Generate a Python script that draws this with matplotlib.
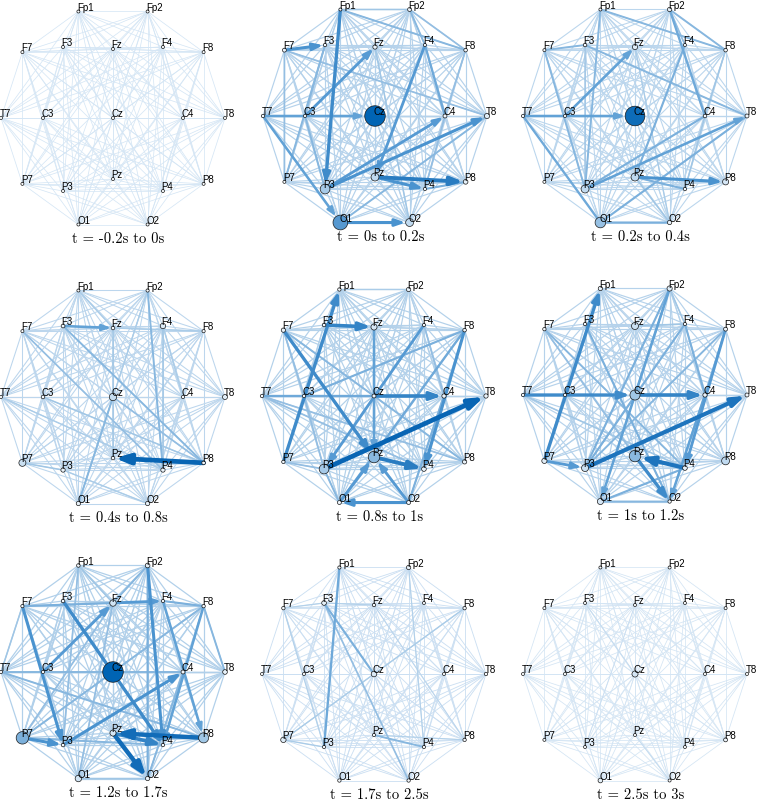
import matplotlib
matplotlib.use("Agg")
import matplotlib.pyplot as plt
from matplotlib.colors import LinearSegmentedColormap
from matplotlib.collections import LineCollection
from matplotlib.patches import FancyArrowPatch

# EEG channels and their 2D layout
channels = ["Fp1", "Fp2", "F7", "F3", "Fz", "F4", "F8", "T7", "C3", "Cz",
            "C4", "T8", "P7", "P3", "Pz", "P4", "P8", "O1", "O2"]
chan_x = [-0.309, 0.309, -0.809, -0.446, 0.0, 0.446, 0.809, -1.0, -0.625, 0.0,
          0.625, 1.0, -0.809, -0.446, 0.0, 0.446, 0.809, -0.309, 0.309]
chan_y = [0.951, 0.951, 0.588, 0.634, 0.616, 0.634, 0.588, 0.0, 0.0, 0.0,
          0.0, 0.0, -0.588, -0.652, -0.545, -0.652, -0.588, -0.951, -0.951]

titles = ["t = -0.2s to 0s", "t = 0s to 0.2s", "t = 0.2s to 0.4s",
          "t = 0.4s to 0.8s", "t = 0.8s to 1s", "t = 1s to 1.2s",
          "t = 1.2s to 1.7s", "t = 1.7s to 2.5s", "t = 2.5s to 3s"]

# node strength per window (same order as channels)
nodes_1 = [0.03] * 19
nodes_2 = [0.03, 0.08, 0.08, 0.05, 0.10, 0.03, 0.06, 0.05, 0.03, 1.00,
           0.08, 0.15, 0.03, 0.40, 0.30, 0.04, 0.12, 0.68, 0.30]
nodes_3 = [0.03, 0.10, 0.03, 0.06, 0.15, 0.03, 0.06, 0.04, 0.03, 0.95,
           0.06, 0.08, 0.03, 0.30, 0.30, 0.05, 0.20, 0.45, 0.10]
nodes_4 = [0.03, 0.04, 0.03, 0.07, 0.06, 0.16, 0.04, 0.03, 0.06, 0.27,
           0.04, 0.14, 0.25, 0.10, 0.06, 0.10, 0.06, 0.10, 0.10]
nodes_5 = [0.05, 0.10, 0.10, 0.06, 0.20, 0.04, 0.06, 0.05, 0.04, 0.08,
           0.10, 0.10, 0.05, 0.40, 0.50, 0.12, 0.10, 0.08, 0.08]
nodes_6 = [0.10, 0.15, 0.05, 0.05, 0.25, 0.04, 0.08, 0.04, 0.04, 0.42,
           0.10, 0.08, 0.15, 0.25, 0.50, 0.12, 0.30, 0.20, 0.05]
nodes_7 = [0.06, 0.12, 0.04, 0.06, 0.22, 0.04, 0.05, 0.04, 0.04, 1.00,
           0.08, 0.12, 0.55, 0.06, 0.20, 0.05, 0.42, 0.22, 0.10]
nodes_8 = [0.04, 0.10, 0.05, 0.12, 0.05, 0.03, 0.05, 0.03, 0.03, 0.17,
           0.03, 0.05, 0.16, 0.04, 0.04, 0.04, 0.05, 0.05, 0.05]
nodes_9 = [0.03, 0.03, 0.03, 0.03, 0.03, 0.03, 0.03, 0.03, 0.03, 0.20,
           0.03, 0.03, 0.03, 0.03, 0.03, 0.03, 0.08, 0.12, 0.03]

# background connectivity level of each window
base_levels = [0.06, 0.24, 0.21, 0.20, 0.25, 0.24, 0.26, 0.12, 0.07]

# strongest directed connections (source, target, weight)
edges_1 = []
edges_2 = [("Fp1", "P3", 0.75), ("F7", "F3", 0.70), ("F3", "P7", 0.45), ("F3", "C3", 0.40),
           ("T7", "Cz", 0.60), ("C3", "Fz", 0.65), ("T7", "O1", 0.60), ("F4", "Pz", 0.65),
           ("F4", "C4", 0.55), ("Fp2", "F4", 0.45), ("Fp1", "F8", 0.45), ("Fp1", "Fp2", 0.35),
           ("P3", "T8", 0.70), ("P3", "C4", 0.65), ("Pz", "P8", 0.85), ("Pz", "P4", 0.70),
           ("P4", "P8", 0.50), ("O1", "O2", 0.70), ("F7", "T8", 0.40), ("C3", "P3", 0.45),
           ("F7", "P7", 0.40), ("O1", "T8", 0.45), ("Fp2", "F8", 0.40), ("Fz", "O2", 0.35),
           ("C4", "P4", 0.40), ("F8", "C4", 0.40)]
edges_3 = [("T7", "Cz", 0.60), ("C3", "Fz", 0.60), ("F7", "F3", 0.45), ("F7", "P3", 0.45),
           ("T7", "O1", 0.55), ("F4", "Pz", 0.50), ("Fp2", "C4", 0.55), ("Fp2", "F4", 0.40),
           ("F3", "T8", 0.45), ("P3", "T8", 0.60), ("P3", "C4", 0.50), ("Pz", "P8", 0.70),
           ("Pz", "P4", 0.50), ("O1", "O2", 0.50), ("Fp1", "F8", 0.45), ("Fp2", "F8", 0.45),
           ("Fp1", "P3", 0.45), ("O1", "T8", 0.50), ("F3", "P3", 0.35), ("C4", "P4", 0.35),
           ("F8", "C4", 0.35), ("Pz", "O2", 0.35), ("Fz", "O2", 0.30)]
edges_4 = [("P8", "Pz", 1.00), ("F3", "Fz", 0.60), ("Cz", "O1", 0.45), ("F3", "P8", 0.45),
           ("Fp2", "P4", 0.45), ("F7", "P4", 0.40), ("Cz", "P8", 0.40), ("F4", "P4", 0.35),
           ("P7", "P3", 0.35), ("Fz", "Pz", 0.35), ("Fp1", "Fz", 0.30), ("Fz", "F8", 0.30),
           ("C3", "P8", 0.35), ("T7", "P4", 0.30), ("Fp2", "O1", 0.30), ("F4", "C4", 0.30),
           ("P3", "O2", 0.30)]
edges_5 = [("P3", "T8", 1.00), ("Cz", "C4", 0.80), ("F3", "Fz", 0.80), ("Fz", "Pz", 0.60),
           ("Pz", "P4", 0.85), ("P7", "Fp1", 0.75), ("F7", "Pz", 0.75), ("F8", "P4", 0.70),
           ("F4", "P3", 0.65), ("F8", "C3", 0.50), ("T7", "Cz", 0.55), ("O2", "O1", 0.70),
           ("O1", "Pz", 0.65), ("O2", "Pz", 0.65), ("O1", "F8", 0.55), ("F7", "P8", 0.45),
           ("T7", "P4", 0.40), ("C4", "O2", 0.50), ("P7", "P3", 0.40), ("F4", "C4", 0.40),
           ("T7", "P8", 0.40), ("C3", "P3", 0.40), ("P3", "O1", 0.45), ("C4", "P4", 0.50),
           ("Fp1", "Fp2", 0.30), ("F7", "C3", 0.40)]
edges_6 = [("P3", "T8", 0.90), ("Cz", "C4", 0.80), ("T7", "Cz", 0.75), ("P4", "Pz", 0.90),
           ("Pz", "O2", 0.75), ("P7", "Fp1", 0.75), ("Fp2", "O1", 0.60), ("Fp2", "P3", 0.50),
           ("F4", "P3", 0.50), ("F8", "P4", 0.65), ("F8", "P3", 0.45), ("C4", "O2", 0.60),
           ("F4", "C4", 0.50), ("O1", "P4", 0.50), ("O1", "O2", 0.45), ("P7", "P3", 0.65),
           ("F3", "O2", 0.50), ("F7", "P4", 0.45), ("Fp2", "Cz", 0.45), ("F8", "C4", 0.45),
           ("C3", "P7", 0.40), ("F7", "Pz", 0.40), ("Fp2", "F4", 0.35), ("Fz", "F4", 0.35),
           ("T7", "P4", 0.35)]
edges_7 = [("P8", "Pz", 0.95), ("Pz", "P4", 0.80), ("Pz", "O2", 0.95), ("F3", "P4", 0.75),
           ("P7", "P3", 0.70), ("P7", "P4", 0.45), ("Fz", "F4", 0.65), ("F7", "Fz", 0.50),
           ("F4", "F8", 0.50), ("F7", "P3", 0.70), ("C3", "Fz", 0.65), ("Fp2", "P4", 0.70),
           ("F8", "P4", 0.60), ("F8", "T8", 0.45), ("F4", "P8", 0.60), ("P3", "C4", 0.70),
           ("T7", "P8", 0.45), ("T7", "C4", 0.45), ("Fp2", "Fz", 0.45), ("Fp1", "Fz", 0.35),
           ("C4", "O2", 0.45), ("Fp2", "O2", 0.50), ("Fp1", "P3", 0.40), ("F7", "T7", 0.35),
           ("Fz", "O1", 0.40), ("Fz", "P7", 0.40), ("O1", "O2", 0.35), ("F8", "P7", 0.45)]
edges_8 = [("Fp1", "P3", 0.55), ("F3", "Cz", 0.50), ("F3", "O2", 0.40), ("Pz", "P4", 0.45),
           ("F8", "P7", 0.30), ("P7", "P3", 0.30), ("F7", "F3", 0.25), ("F3", "Fz", 0.25),
           ("Fp2", "P4", 0.25), ("F7", "P3", 0.25), ("Fz", "P8", 0.20), ("Pz", "P8", 0.25)]
edges_9 = [("F3", "Cz", 0.15), ("Pz", "O2", 0.15), ("Fz", "P3", 0.12)]

panels = [
    (titles[0], nodes_1, base_levels[0], edges_1),
    (titles[1], nodes_2, base_levels[1], edges_2),
    (titles[2], nodes_3, base_levels[2], edges_3),
    (titles[3], nodes_4, base_levels[3], edges_4),
    (titles[4], nodes_5, base_levels[4], edges_5),
    (titles[5], nodes_6, base_levels[5], edges_6),
    (titles[6], nodes_7, base_levels[6], edges_7),
    (titles[7], nodes_8, base_levels[7], edges_8),
    (titles[8], nodes_9, base_levels[8], edges_9),
]

# pixel position of Cz in each panel
centers = [(113, 119), (375, 117), (635, 117),
           (113, 398), (374, 397), (635, 396),
           (113, 673), (374, 675), (635, 675)]

edge_cmap = LinearSegmentedColormap.from_list(
    "edges", ["#e0ecf8", "#a4c8e6", "#5298d2", "#0865b4"])
node_cmap = LinearSegmentedColormap.from_list(
    "nodes", ["#ffffff", "#b9d6ee", "#5a9bd1", "#0064b4"])


def edge_lw(w):
    return 0.5 + 2.9 * w ** 1.5


def node_diam_pt(v):
    return (2.5 + 18 * v) * 0.72


W, H = 758, 803
S = 112.0
XL = (-1.06, 1.16)
YL = (-1.2, 1.12)

fig = plt.figure(figsize=(W / 100, H / 100), dpi=100)
idx = {c: i for i, c in enumerate(channels)}

for (title, vals, base, edges), (cx, cy) in zip(panels, centers):
    rect = [(cx + XL[0] * S) / W, 1 - (cy - YL[0] * S) / H,
            (XL[1] - XL[0]) * S / W, (YL[1] - YL[0]) * S / H]
    ax = fig.add_axes(rect)
    ax.set_xlim(*XL)
    ax.set_ylim(*YL)
    ax.axis("off")

    segs = []
    for i in range(len(channels)):
        for j in range(i + 1, len(channels)):
            segs.append([(chan_x[i], chan_y[i]), (chan_x[j], chan_y[j])])
    ax.add_collection(LineCollection(segs, colors=[edge_cmap(base)],
                                     linewidths=edge_lw(base), zorder=1))

    for src, dst, w in sorted(edges, key=lambda e: e[2]):
        a, b = idx[src], idx[dst]
        lw = edge_lw(w)
        if w >= 0.6:
            style = "-|>,head_length=1.0,head_width=0.35"
            shrink = node_diam_pt(vals[b]) / 2
        else:
            style = "-"
            shrink = 0
        arr = FancyArrowPatch((chan_x[a], chan_y[a]), (chan_x[b], chan_y[b]),
                              arrowstyle=style, mutation_scale=1 + 2.2 * lw,
                              shrinkA=0, shrinkB=shrink, lw=lw,
                              color=edge_cmap(w), zorder=2 + w)
        ax.add_patch(arr)

    ax.scatter(chan_x, chan_y, s=[node_diam_pt(v) ** 2 for v in vals],
               c=[node_cmap(v) for v in vals], edgecolors="#1a1a1a",
               linewidths=0.5, zorder=5)

    for name, x, y in zip(channels, chan_x, chan_y):
        ax.annotate(name, (x, y), xytext=(-1.0, 1.2), textcoords="offset points",
                    fontsize=7, family="Liberation Sans", ha="left",
                    va="baseline", zorder=6)

    ax.text(0.05, -1.075, title, ha="center", va="center", family="cmr10",
            fontsize=10.5)

fig.savefig("out.png", dpi=100)
